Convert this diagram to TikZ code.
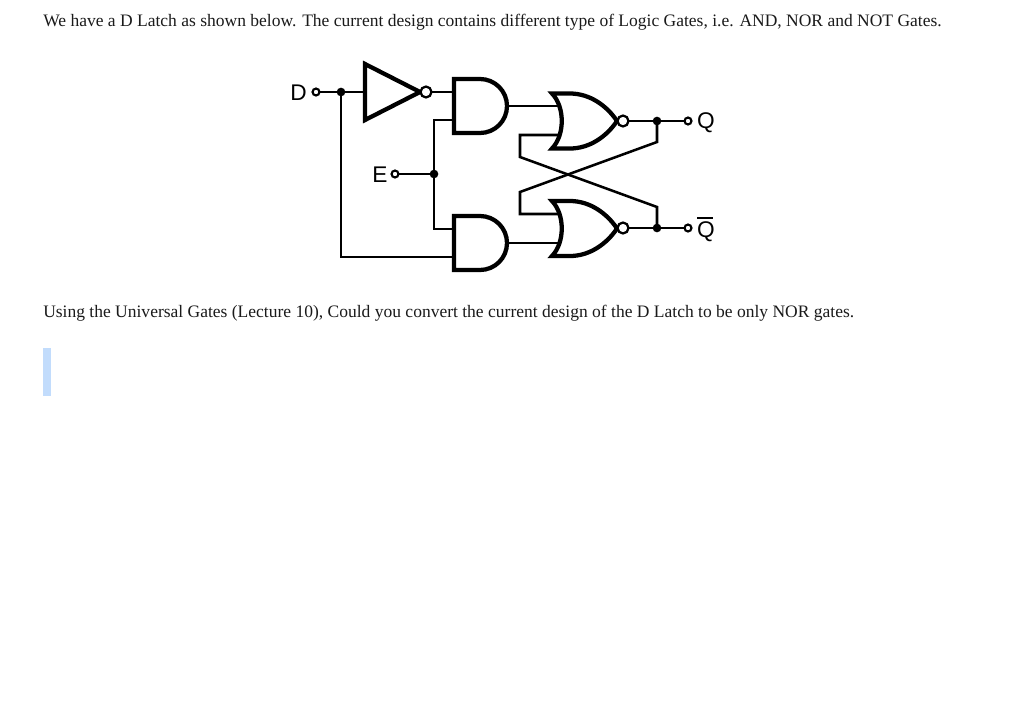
\documentclass[tikz,border=0pt]{standalone}
\usepackage{fontspec}
\setmainfont{Liberation Serif}
\newfontfamily\labelfont{Liberation Sans}
\definecolor{bodytext}{HTML}{1A1A1A}
\definecolor{selection}{HTML}{C2DCFC}
\tikzset{
  x=0.75pt,y=-0.75pt,
  wire/.style={line width=1.9pt,black,line join=miter},
  gate/.style={line width=3.2pt,black,line join=miter,fill=white},
  terminal/.style={circle,draw=black,fill=white,line width=1.6pt,inner sep=0pt,outer sep=0pt,minimum size=5.2pt},
  junction/.style={circle,fill=black,inner sep=0pt,outer sep=0pt,minimum size=6.5pt},
  bubble/.style={circle,draw=black,fill=white,line width=1.7pt,inner sep=0pt,outer sep=0pt,minimum size=8.2pt},
  pinlabel/.style={font=\labelfont\fontsize{17}{19}\selectfont,inner sep=0pt},
  bodyline/.style={anchor=base west,inner sep=0pt,text=bodytext,font=\fontsize{13.13}{15}\selectfont}
}
\begin{document}
\begin{tikzpicture}
\useasboundingbox (0,0) rectangle (1024,725);
\fill[white] (0,0) rectangle (1024,725);
\node[bodyline] (line1) at (43,26) {We have a D Latch as shown below. The current design contains different type of Logic Gates, i.e. AND, NOR and NOT Gates.};
\node[bodyline] (line2) at (43,317) {Using the Universal Gates (Lecture 10), Could you convert the current design of the D Latch to be only NOR gates.};
\fill[selection] (43,348) rectangle (51,396);

% pins
\coordinate (invin) at (365,92);
\coordinate (and1a) at (454,92);
\coordinate (and1b) at (454,120);
\coordinate (and1out) at (507,106);
\coordinate (and2a) at (454,229);
\coordinate (and2b) at (454,257);
\coordinate (and2out) at (507,243);
\coordinate (nor1a) at (561,106);
\coordinate (nor1b) at (561,135);
\coordinate (nor2a) at (561,214);
\coordinate (nor2b) at (561,243);

% terminals, junctions, bubbles
\node[pinlabel] (dlabel) at (298.5,93) {D};
\node[pinlabel] (elabel) at (380,175) {E};
\node[pinlabel] (qlabel) at (706,122.5) {Q};
\node[pinlabel] (qbarlabel) at (706,229) {\rlap{\hspace{0.1pt}\rule[13.6pt]{11.4pt}{1.8pt}}Q};
\node[terminal] (dt) at (316,92) {};
\node[terminal] (et) at (395,174) {};
\node[terminal] (qt) at (688,121) {};
\node[terminal] (qbt) at (688,228) {};
\node[junction] (dj) at (341,92) {};
\node[junction] (ej) at (434,174) {};
\node[junction] (qj) at (657,121) {};
\node[junction] (qbj) at (657,228) {};
\coordinate (dcorner) at (341,257);
\coordinate (etop) at (434,120);
\coordinate (ebot) at (434,229);

% wires
\draw[wire] (dt) -- (dj) -- (invin);
\draw[wire] (dj.center) -- (dcorner) -- (and2b);
\draw[wire] (et) -- (ej);
\draw[wire] (and1b) -- (etop) -- (ebot) -- (and2a);
\draw[wire] (and1out) -- (nor1a);
\draw[wire] (and2out) -- (nor2b);
\draw[wire] (qj) -- (qt);
\draw[wire] (qbj) -- (qbt);
\draw[wire] (qj.center) -- (657,142) -- (520,192) -- (520,214) -- (nor2a);
\draw[wire] (qbj.center) -- (657,207) -- (520,157) -- (520,135) -- (nor1b);

% NOT gate
\draw[gate] (365,64) -- (420,92) -- (365,120) -- cycle;
% AND gates
\draw[gate] (454,79) -- (480,79) arc[start angle=-90,end angle=90,radius=27] -- (454,133) -- cycle;
\draw[gate] (454,216) -- (480,216) arc[start angle=-90,end angle=90,radius=27] -- (454,270) -- cycle;
% NOR gates
\draw[gate] (552,93.5) -- (570,93.5) .. controls (590,93.5) and (607,106) .. (617,121) .. controls (607,136) and (590,148.5) .. (570,148.5) -- (552,148.5) .. controls (565,135) and (565,107) .. cycle;
\draw[gate] (552,201) -- (570,201) .. controls (590,201) and (607,213.5) .. (617,228.5) .. controls (607,243.5) and (590,256) .. (570,256) -- (552,256) .. controls (565,242.5) and (565,214.5) .. cycle;

% bubbles and their wires
\node[bubble] (notb) at (426,92) {};
\node[bubble] (norb1) at (623,121) {};
\node[bubble] (norb2) at (623,228) {};
\draw[wire] (notb) -- (and1a);
\draw[wire] (norb1) -- (qj);
\draw[wire] (norb2) -- (qbj);
\end{tikzpicture}
\end{document}
